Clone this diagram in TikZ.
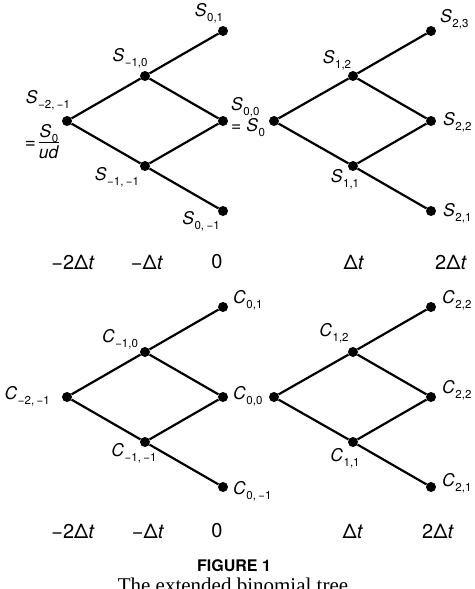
\documentclass[tikz,border=0pt]{standalone}
\usepackage{fontspec}
\setmainfont{TeX Gyre Heros}
\newfontfamily\capserif{Liberation Serif}
\newcommand\lbl[2]{\textit{#1}\kern0.6pt\raisebox{-0.55ex}{\fontsize{11.5}{12}\selectfont #2}}
\newcommand\cm{,\kern2.4pt}
\begin{document}
\begin{tikzpicture}[x=1pt,y=-1pt,
  dot/.style={circle,fill=black,inner sep=0pt,minimum size=10pt},
  edge/.style={line width=2.2pt},
  lab/.style={inner sep=0pt,font=\fontsize{17.5}{18}\selectfont},
  tlab/.style={inner sep=0pt,font=\fontsize{20}{21}\selectfont}]
\useasboundingbox (0,0) rectangle (474,589);
\clip (0,0) rectangle (474,589);
% ---------- top tree ----------
\node[dot] (a0) at (67,121) {};
\node[dot] (a1) at (145,76) {};
\node[dot] (a2) at (145,166) {};
\node[dot] (a3) at (223,31) {};
\node[dot] (a4) at (223,121) {};
\node[dot] (a5) at (223,211) {};
\node[dot] (b0) at (274,121) {};
\node[dot] (b1) at (353,76) {};
\node[dot] (b2) at (353,166) {};
\node[dot] (b3) at (431,31) {};
\node[dot] (b4) at (431,121) {};
\node[dot] (b5) at (431,211) {};
\draw[edge] (a0) -- (a1) -- (a3);
\draw[edge] (a0) -- (a2) -- (a5);
\draw[edge] (a1) -- (a4) -- (a2);
\draw[edge] (b0) -- (b1) -- (b3);
\draw[edge] (b0) -- (b2) -- (b5);
\draw[edge] (b1) -- (b4) -- (b2);
\node[lab] (la3) at (209,13) {\lbl{S}{0,1}};
\node[lab] (la1) at (130,58) {\lbl{S}{−1,0}};
\node[lab] (la0) at (48,100) {\lbl{S}{−2\cm −1}};
\node[lab] (la0b) at (42,144) {\fontsize{19}{20}\selectfont=\kern3pt{\fontsize{17.5}{18}\selectfont\arrayrulewidth=1.1pt\begin{tabular}[c]{@{}c@{}}\lbl{S}{0}\\[-1pt]\hline\rule{0pt}{15pt}\textit{ud}\end{tabular}}};
\node[lab,anchor=west] (la4) at (231,107) {\lbl{S}{0,0}};
\node[lab,anchor=west] (la4b) at (231,128) {= \lbl{S}{0}};
\node[lab] (la2) at (117,177) {\lbl{S}{−1\cm −1}};
\node[lab] (la5) at (201,221) {\lbl{S}{0\cm −1}};
\node[lab] (lb1) at (337,60) {\lbl{S}{1,2}};
\node[lab,anchor=west] (lb3) at (440,19) {\lbl{S}{2,3}};
\node[lab,anchor=west] (lb4) at (443,122) {\lbl{S}{2,2}};
\node[lab] (lb2) at (345,179) {\lbl{S}{1,1}};
\node[lab,anchor=west] (lb5) at (443,213) {\lbl{S}{2,1}};
\node[tlab] (t1) at (73,262) {−2Δ\textit{t}};
\node[tlab] (t2) at (147,262) {−Δ\textit{t}};
\node[tlab] (t3) at (217,262) {0};
\node[tlab] (t4) at (354,262) {Δ\textit{t}};
\node[tlab] (t5) at (451,262) {2Δ\textit{t}};
% ---------- bottom tree ----------
\node[dot] (c0) at (67,397) {};
\node[dot] (c1) at (145,352) {};
\node[dot] (c2) at (145,442) {};
\node[dot] (c3) at (223,307) {};
\node[dot] (c4) at (223,397) {};
\node[dot] (c5) at (223,487) {};
\node[dot] (d0) at (274,397) {};
\node[dot] (d1) at (353,352) {};
\node[dot] (d2) at (353,442) {};
\node[dot] (d3) at (431,307) {};
\node[dot] (d4) at (431,397) {};
\node[dot] (d5) at (431,487) {};
\draw[edge] (c0) -- (c1) -- (c3);
\draw[edge] (c0) -- (c2) -- (c5);
\draw[edge] (c1) -- (c4) -- (c2);
\draw[edge] (d0) -- (d1) -- (d3);
\draw[edge] (d0) -- (d2) -- (d5);
\draw[edge] (d1) -- (d4) -- (d2);
\node[lab,anchor=west] (lc3) at (233,300) {\lbl{C}{0,1}};
\node[lab] (lc1) at (120,339) {\lbl{C}{−1,0}};
\node[lab,anchor=east] (lc0) at (50,396) {\lbl{C}{−2\cm −1}};
\node[lab,anchor=west] (lc4) at (233,396) {\lbl{C}{0,0}};
\node[lab] (lc2) at (134,453) {\lbl{C}{−1\cm −1}};
\node[lab,anchor=west] (lc5) at (233,491) {\lbl{C}{0\cm −1}};
\node[lab] (ld1) at (334,333) {\lbl{C}{1,2}};
\node[lab,anchor=west] (ld3) at (442,300) {\lbl{C}{2,2}};
\node[lab,anchor=west] (ld4) at (442,390) {\lbl{C}{2,2}};
\node[lab] (ld2) at (345,458) {\lbl{C}{1,1}};
\node[lab,anchor=west] (ld5) at (442,483) {\lbl{C}{2,1}};
\node[tlab] (u1) at (73,531) {−2Δ\textit{t}};
\node[tlab] (u2) at (148,531) {−Δ\textit{t}};
\node[tlab] (u3) at (217,531) {0};
\node[tlab] (u4) at (353,531) {Δ\textit{t}};
\node[tlab] (u5) at (438,531) {2Δ\textit{t}};
% ---------- caption ----------
\node[inner sep=0pt,font=\fontsize{16}{17}\selectfont\bfseries] (fig) at (234,566) {FIGURE 1};
\node[inner sep=0pt,anchor=base,font=\capserif\fontsize{21}{22}\selectfont] (cap) at (233,592) {The extended binomial tree};
\end{tikzpicture}
\end{document}
